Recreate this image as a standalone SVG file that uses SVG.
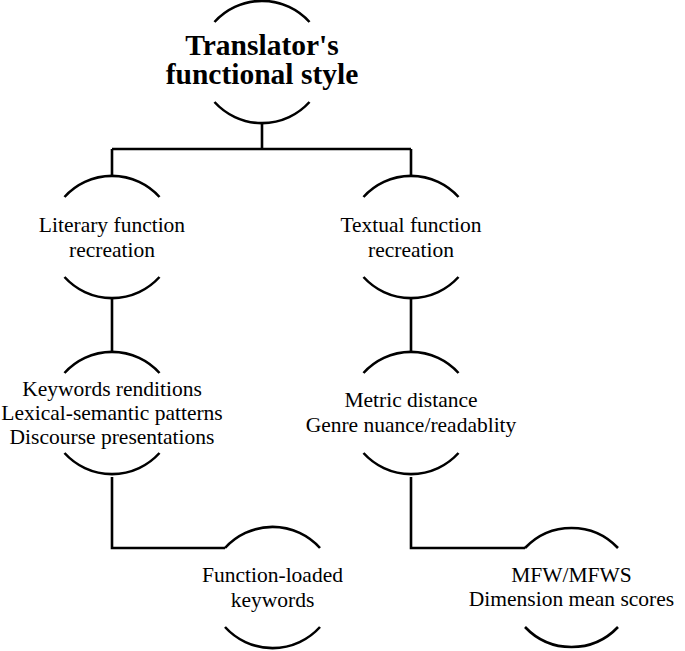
<svg xmlns="http://www.w3.org/2000/svg" width="685" height="651" viewBox="0 0 685 651">
<style>
.a{fill:none;stroke:#000;stroke-width:2.6}
.c{fill:none;stroke:#000;stroke-width:2.6}
text{font-family:"Liberation Serif","Times New Roman",serif;font-size:21.5px;text-anchor:middle;fill:#000}
.b{font-weight:bold;font-size:29.5px}
</style>
<rect width="685" height="651" fill="#fff"/>
<g id="connectors">
<path class="c" d="M262 124V149M112 149H411M112 149V176M411 149V176M112 298V353M411 298V353M112 477V548H225M411 477V548H525"/>
</g>
<g id="n0">
<path class="a" d="M214.5 22A64 64 0 0 1 309.5 22M214.5 102A64 64 0 0 0 309.5 102"/>
<text class="b" x="262" y="55">Translator's</text><text class="b" x="262" y="84">functional style</text>
</g>
<g id="n1">
<path class="a" d="M64.5 197A64 64 0 0 1 159.5 197M64.5 277A64 64 0 0 0 159.5 277"/>
<text x="112" y="232">Literary function</text><text x="112" y="257">recreation</text>
</g>
<g id="n2">
<path class="a" d="M363.5 197A64 64 0 0 1 458.5 197M363.5 277A64 64 0 0 0 458.5 277"/>
<text x="411" y="232">Textual function</text><text x="411" y="257">recreation</text>
</g>
<g id="n3">
<path class="a" d="M64.5 373A64 64 0 0 1 159.5 373M64.5 453A64 64 0 0 0 159.5 453"/>
<text x="112" y="396">Keywords renditions</text><text x="112" y="420">Lexical-semantic patterns</text><text x="112" y="444">Discourse presentations</text>
</g>
<g id="n4">
<path class="a" d="M363.5 373A64 64 0 0 1 458.5 373M363.5 453A64 64 0 0 0 458.5 453"/>
<text x="411" y="407">Metric distance</text><text x="411" y="432">Genre nuance/readablity</text>
</g>
<g id="n5">
<path class="a" d="M225 548A64 64 0 0 1 320 548M225 627A64 64 0 0 0 320 627"/>
<text x="272.5" y="582">Function-loaded</text><text x="272.5" y="607">keywords</text>
</g>
<g id="n6">
<path class="a" d="M525 548A64 64 0 0 1 618 548M525 627A64 64 0 0 0 618 627"/>
<text x="571.5" y="582">MFW/MFWS</text><text x="571.5" y="606">Dimension mean scores</text>
</g>
</svg>
